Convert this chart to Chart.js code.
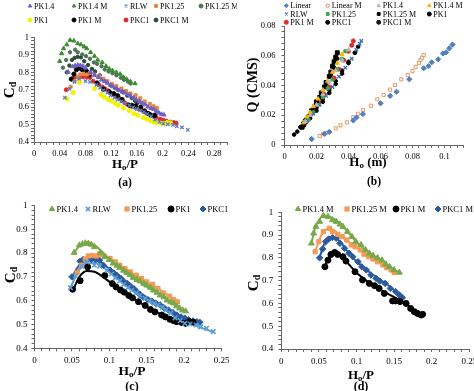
<!DOCTYPE html>
<html><head><meta charset="utf-8">
<script src="https://cdn.jsdelivr.net/npm/chart.js@4.4.1/dist/chart.umd.min.js"></script>
<style>
html,body{margin:0;padding:0;background:#fff;}
#wrap{position:relative;width:474px;height:391px;overflow:hidden;background:#fff;}
canvas{position:absolute;}
</style></head><body>
<div id="wrap">
<canvas id="ca" width="237" height="195" style="left:0;top:0"></canvas>
<canvas id="cb" width="237" height="195" style="left:237px;top:0"></canvas>
<canvas id="cc" width="237" height="196" style="left:0;top:195px"></canvas>
<canvas id="cd" width="237" height="196" style="left:237px;top:195px"></canvas>
</div>
<script>
// ---------- Cd vs Ho/P data (panels a, c, d) ----------
const PK14_H  = [0.053,0.060,0.064,0.068,0.072,0.076,0.080,0.088,0.094,0.100,0.105,0.110,0.114,0.119,0.123,0.128,0.132,0.137,0.141,0.146,0.150,0.155,0.159,0.164,0.168,0.173,0.177,0.182,0.186,0.190,0.194,0.198,0.202];
const PK14_Cd = [0.802,0.833,0.838,0.842,0.840,0.836,0.826,0.800,0.784,0.772,0.757,0.748,0.739,0.727,0.718,0.708,0.697,0.688,0.682,0.672,0.665,0.655,0.644,0.634,0.623,0.615,0.602,0.594,0.589,0.577,0.568,0.560,0.556];
const RLW_H   = [0.048,0.055,0.063,0.070,0.080,0.087,0.097,0.103,0.108,0.114,0.119,0.125,0.130,0.136,0.141,0.148,0.154,0.160,0.165,0.171,0.176,0.182,0.188,0.195,0.201,0.208,0.216,0.222,0.230,0.239];
const RLW_Cd  = [0.655,0.705,0.745,0.763,0.749,0.745,0.728,0.712,0.696,0.683,0.668,0.655,0.644,0.633,0.623,0.610,0.598,0.590,0.582,0.572,0.561,0.548,0.528,0.516,0.505,0.502,0.498,0.490,0.484,0.470];
const PK125_H = [0.057,0.063,0.068,0.072,0.077,0.083,0.087,0.094,0.101,0.108,0.114,0.121,0.128,0.136,0.143,0.150,0.158,0.165,0.172,0.180,0.186,0.191];
const PK125_Cd= [0.717,0.749,0.775,0.788,0.790,0.788,0.797,0.786,0.777,0.763,0.749,0.735,0.721,0.707,0.693,0.679,0.669,0.651,0.633,0.619,0.605,0.595];
const PK1_H   = [0.051,0.061,0.071,0.094,0.104,0.109,0.115,0.120,0.126,0.131,0.139,0.148,0.155,0.161,0.170,0.175,0.181,0.186,0.190,0.197,0.202,0.207,0.212];
const PK1_Cd  = [0.648,0.684,0.742,0.706,0.672,0.658,0.645,0.636,0.622,0.612,0.596,0.580,0.563,0.553,0.540,0.532,0.522,0.516,0.512,0.508,0.505,0.512,0.510];
const PKC1_H  = [0.050,0.061,0.065,0.070,0.076,0.082,0.087,0.092,0.101,0.106,0.110,0.115,0.119,0.124,0.128,0.133,0.137,0.141,0.145,0.151,0.157,0.162,0.168,0.173,0.179,0.185,0.190,0.196,0.201,0.206,0.212,0.217,0.221];
const PKC1_Cd = [0.700,0.766,0.773,0.772,0.774,0.772,0.770,0.749,0.728,0.716,0.707,0.695,0.682,0.672,0.662,0.650,0.637,0.626,0.616,0.606,0.598,0.590,0.582,0.571,0.561,0.550,0.540,0.532,0.526,0.520,0.515,0.512,0.509];

const PK14M_H  = [0.040,0.043,0.046,0.051,0.056,0.062,0.068,0.073,0.078,0.082,0.088,0.094,0.099,0.106,0.112,0.117,0.122,0.128,0.134,0.139,0.144,0.150,0.157];
const PK14M_Cd = [0.864,0.908,0.937,0.959,0.985,0.981,0.966,0.959,0.947,0.937,0.915,0.893,0.871,0.857,0.835,0.820,0.810,0.800,0.790,0.772,0.761,0.747,0.736];
const PK125M_H = [0.045,0.050,0.056,0.064,0.068,0.075,0.081,0.087,0.093,0.098,0.105,0.110,0.116,0.122,0.128,0.135,0.140,0.146,0.150];
const PK125M_Cd= [0.827,0.871,0.915,0.930,0.915,0.903,0.893,0.878,0.857,0.849,0.835,0.816,0.805,0.795,0.783,0.769,0.757,0.747,0.736];
const PK1M_H   = [0.058,0.062,0.066,0.071,0.075,0.082,0.086,0.098,0.108,0.117,0.124,0.130,0.137,0.148,0.152,0.158,0.166,0.172,0.177,0.181,0.186,0.188];
const PK1M_Cd  = [0.761,0.790,0.815,0.824,0.815,0.805,0.786,0.739,0.703,0.688,0.678,0.666,0.644,0.611,0.611,0.608,0.600,0.578,0.564,0.556,0.549,0.552];
const PKC1M_H  = [0.051,0.055,0.059,0.063,0.068,0.073,0.078,0.084,0.090,0.095,0.102,0.107,0.113,0.119,0.126,0.131,0.138,0.145,0.152,0.157,0.161];
const PKC1M_Cd = [0.800,0.839,0.871,0.883,0.889,0.886,0.864,0.842,0.820,0.805,0.783,0.761,0.747,0.725,0.710,0.698,0.688,0.666,0.652,0.637,0.625];

// trend curves
const PK14_fitH  = [0.053,0.060,0.070,0.080,0.100,0.120,0.140,0.160,0.180,0.202];
const PK14_fitCd = [0.800,0.830,0.842,0.835,0.775,0.722,0.680,0.640,0.600,0.553];
const RLW_fitH   = [0.048,0.060,0.070,0.080,0.100,0.120,0.140,0.160,0.180,0.200,0.220,0.239];
const RLW_fitCd  = [0.655,0.730,0.755,0.758,0.722,0.675,0.628,0.590,0.553,0.515,0.490,0.468];
const PK125_fitH = [0.057,0.065,0.075,0.085,0.100,0.120,0.140,0.160,0.180,0.191];
const PK125_fitCd= [0.720,0.765,0.785,0.790,0.778,0.737,0.697,0.660,0.620,0.597];
const PK1_fitH   = [0.051,0.060,0.070,0.080,0.100,0.120,0.140,0.160,0.180,0.200,0.212];
const PK1_fitCd  = [0.640,0.700,0.725,0.722,0.680,0.635,0.594,0.557,0.527,0.508,0.507];
const PKC1_fitH  = [0.050,0.060,0.070,0.080,0.100,0.120,0.140,0.160,0.180,0.200,0.221];
const PKC1_fitCd = [0.700,0.750,0.768,0.770,0.735,0.685,0.635,0.595,0.560,0.527,0.505];
const PK14M_fitH  = [0.040,0.045,0.050,0.057,0.065,0.080,0.100,0.120,0.140,0.157];
const PK14M_fitCd = [0.865,0.930,0.965,0.985,0.980,0.945,0.870,0.815,0.770,0.735];
const PK125M_fitH = [0.045,0.050,0.055,0.063,0.070,0.080,0.100,0.120,0.140,0.150];
const PK125M_fitCd= [0.825,0.875,0.910,0.928,0.922,0.895,0.845,0.800,0.760,0.735];
const PK1M_fitH   = [0.058,0.062,0.066,0.072,0.080,0.100,0.120,0.140,0.160,0.180,0.188];
const PK1M_fitCd  = [0.760,0.795,0.815,0.820,0.805,0.735,0.685,0.645,0.610,0.565,0.550];
const PKC1M_fitH  = [0.051,0.055,0.060,0.068,0.075,0.090,0.100,0.120,0.140,0.161];
const PKC1M_fitCd = [0.800,0.845,0.875,0.888,0.882,0.820,0.785,0.730,0.685,0.625];

// ---------- Q vs Ho data (panel b) ----------
const bLinear_H  = [0.017,0.025,0.028,0.043,0.045,0.049,0.060,0.066,0.070,0.078,0.087,0.090,0.092,0.096,0.099,0.101,0.103,0.105];
const bLinear_Q  = [0.004,0.0075,0.0088,0.0165,0.0185,0.0208,0.028,0.033,0.0358,0.0442,0.0516,0.053,0.0556,0.0576,0.0615,0.0623,0.065,0.0675];
const bLinearM_H = [0.022,0.024,0.025,0.026,0.032,0.035,0.039,0.043,0.046,0.049,0.054,0.058,0.062,0.066,0.069,0.073,0.077,0.080,0.082,0.084,0.085,0.086,0.087];
const bLinearM_Q = [0.006,0.0072,0.0078,0.0082,0.0112,0.0132,0.0152,0.0186,0.021,0.0235,0.0264,0.0307,0.0336,0.0372,0.0403,0.0442,0.047,0.0497,0.0526,0.0553,0.0571,0.0587,0.0605];
const bPK14_H    = [0.013,0.016,0.020,0.024,0.028,0.032,0.036,0.040];
const bPK14_Q    = [0.016,0.020,0.027,0.034,0.042,0.050,0.057,0.064];
const bPK14M_H   = [0.012,0.014,0.016,0.018,0.021,0.024,0.027,0.030,0.033,0.036];
const bPK14M_Q   = [0.015,0.019,0.022,0.026,0.031,0.037,0.043,0.049,0.055,0.061];
const bRLW_H     = [0.014,0.018,0.022,0.026,0.030,0.034,0.038,0.042,0.045,0.047,0.048];
const bRLW_Q     = [0.016,0.021,0.027,0.033,0.039,0.046,0.052,0.058,0.064,0.068,0.070];
const bPK125_H   = [0.015,0.018,0.021,0.024,0.027,0.030,0.033,0.036,0.038];
const bPK125_Q   = [0.017,0.022,0.027,0.032,0.038,0.044,0.051,0.058,0.063];
const bPK125M_H  = [0.011,0.012,0.013,0.014,0.015,0.017,0.019,0.020,0.022,0.023,0.025,0.026,0.028,0.029,0.030,0.031,0.032,0.033];
const bPK125M_Q  = [0.012,0.014,0.016,0.017,0.019,0.023,0.026,0.029,0.032,0.035,0.039,0.042,0.046,0.049,0.053,0.056,0.059,0.062];
const bPK1_H     = [0.012,0.016,0.020,0.024,0.028,0.032,0.036,0.040,0.044];
const bPK1_Q     = [0.013,0.018,0.023,0.029,0.035,0.041,0.048,0.055,0.062];
const bPK1M_H    = [0.013,0.016,0.019,0.022,0.025,0.028,0.031,0.034,0.037,0.040,0.042,0.043];
const bPK1M_Q    = [0.015,0.020,0.024,0.029,0.034,0.039,0.045,0.051,0.057,0.063,0.067,0.070];
const bPKC1_H    = [0.006,0.008,0.010,0.013,0.016,0.020,0.024,0.028,0.032,0.036,0.040,0.044,0.046];
const bPKC1_Q    = [0.007,0.009,0.012,0.015,0.020,0.025,0.031,0.037,0.043,0.050,0.056,0.062,0.066];
const bPKC1M_H   = [0.010,0.012,0.014,0.017,0.020,0.023,0.026,0.029,0.031,0.033];
const bPKC1M_Q   = [0.012,0.015,0.018,0.023,0.028,0.034,0.040,0.047,0.052,0.058];

// ---------- helpers ----------
const SERIF = '"Liberation Serif", "Times New Roman", serif';
const pts = (xs, ys) => xs.map((x, i) => ({x, y: ys[i]}));
function mk(label, xs, ys, style, color, r, bg, bw) {
  return {label, data: pts(xs, ys), pointStyle: style, pointRadius: r, pointHoverRadius: r,
    backgroundColor: bg || color, borderColor: color, borderWidth: bw || 1, showLine: false};
}
function fit(xs, ys, color) {
  return {data: pts(xs, ys), showLine: true, pointRadius: 0, pointHoverRadius: 0, borderColor: color,
    backgroundColor: color, borderWidth: 2, cubicInterpolationMode: 'monotone', fill: false};
}
function axis(o) {
  return {
    type: 'linear', min: o.min, max: o.max,
    afterBuildTicks(s) {
      const t = []; const n = Math.round((o.max - o.min) / o.minor);
      for (let k = 0; k <= n; k++) t.push({value: +(o.min + k * o.minor).toFixed(6)});
      s.ticks = t;
    },
    ticks: {autoSkip: false, maxRotation: 0, minRotation: 0, padding: o.pad, color: '#000',
      font: {family: SERIF, size: o.size},
      callback(v) { const q = v / o.major; return Math.abs(q - Math.round(q)) < 1e-6 ? String(+v.toFixed(4)) : ''; }},
    grid: {drawOnChartArea: false, drawTicks: true, tickLength: 3, color: '#666', lineWidth: 1},
    border: {display: true, color: '#666', width: 1},
    afterFit(s) {
      if (o.isX) s.height = o.fixed; else s.width = o.fixed;
      s.paddingLeft = 0; s.paddingRight = 0; s.paddingTop = 0; s.paddingBottom = 0;
    }
  };
}
const textPlugin = {
  id: 'paneltext',
  afterDraw(chart, args, opts) {
    const ctx = chart.ctx;
    (opts.items || []).forEach(it => {
      ctx.save();
      ctx.translate(it.x, it.y);
      if (it.rot) ctx.rotate(it.rot);
      let total = 0;
      const segs = it.parts.map(p => { ctx.font = p.font; const w = ctx.measureText(p.t).width; total += w; return Object.assign({w}, p); });
      let x = -total / 2;
      ctx.textBaseline = 'middle'; ctx.textAlign = 'left'; ctx.fillStyle = '#000';
      segs.forEach(s => { ctx.font = s.font; ctx.fillText(s.t, x, s.dy || 0); x += s.w; });
      ctx.restore();
    });
    const lg = opts.legend;
    if (lg) {
      const items = chart.data.datasets.filter(d => d.label);
      items.forEach((ds, i) => {
        const x = lg.cols[i % lg.cols.length], y = lg.rows[Math.floor(i / lg.cols.length)];
        ctx.save();
        ctx.fillStyle = ds.backgroundColor; ctx.strokeStyle = ds.borderColor; ctx.lineWidth = ds.borderWidth;
        const r = lg.radius || ds.pointRadius;
        if (Chart.helpers && Chart.helpers.drawPoint) {
          Chart.helpers.drawPoint(ctx, {pointStyle: ds.pointStyle, rotation: 0, radius: r, borderWidth: ds.borderWidth}, x, y);
        } else { ctx.beginPath(); ctx.arc(x, y, r, 0, Math.PI * 2); ctx.fill(); }
        ctx.fillStyle = '#000'; ctx.font = lg.font; ctx.textBaseline = 'middle'; ctx.textAlign = 'left';
        ctx.fillText(ds.label, x + lg.gap, y + 0.5);
        ctx.restore();
      });
    }
  }
};
function make(id, datasets, xs, ys, pad, text) {
  return new Chart(document.getElementById(id), {
    type: 'scatter',
    data: {datasets},
    options: {
      responsive: false, devicePixelRatio: 1, animation: false,
      layout: {padding: pad},
      plugins: {legend: {display: false}, tooltip: {enabled: false}, paneltext: text},
      scales: {x: xs, y: ys}
    },
    plugins: [textPlugin]
  });
}
const B = s => 'bold ' + s + 'px ' + SERIF;
const HoP = (x, y, s) => ({x, y, parts: [{t: 'H', font: B(s)}, {t: 'o', font: B(s * 0.68), dy: 3}, {t: '/P', font: B(s)}]});
const Cd = (x, y, s) => ({x, y, rot: -Math.PI / 2, parts: [{t: 'C', font: B(s)}, {t: 'd', font: B(s * 0.66), dy: 3.5}]});

// ---------- panel (a) ----------
make('ca', [
  mk('PK1.4', PK14_H, PK14_Cd, 'triangle', '#6f5fc4', 2.4),
  mk('PK1.4 M', PK14M_H, PK14M_Cd, 'triangle', '#3b8a2f', 2.4),
  mk('RLW', RLW_H, RLW_Cd, 'crossRot', '#5a80c0', 2.4, null, 1.3),
  mk('PK1.25', PK125_H, PK125_Cd, 'rect', '#e8843f', 2.1),
  mk('PK1.25 M', PK125M_H, PK125M_Cd, 'circle', '#4d7358', 1.7),
  mk('PK1', PK1_H, PK1_Cd, 'circle', '#f2f200', 2.1),
  mk('PK1 M', PK1M_H, PK1M_Cd, 'circle', '#000000', 2.1),
  mk('PKC1', PKC1_H, PKC1_Cd, 'circle', '#e02828', 1.9),
  mk('PKC1 M', PKC1M_H, PKC1M_Cd, 'circle', '#2c4a38', 1.7)
],
  axis({min: 0, max: 0.3, major: 0.04, minor: 0.01, size: 8.5, pad: 4, fixed: 16, isX: true}),
  axis({min: 0.4, max: 1, major: 0.1, minor: 0.02, size: 8.5, pad: 2, fixed: 34}),
  {left: 0, right: 10, top: 37.5, bottom: 37},
  {items: [Cd(10, 90, 15), HoP(125, 165, 13), {x: 125, y: 183, parts: [{t: '(a)', font: B(11.5)}]}],
   legend: {cols: [30, 74, 126, 156, 201], rows: [6, 20], gap: 4, font: '8px ' + SERIF, radius: 2}}
);

// ---------- panel (b) ----------
make('cb', [
  mk('Linear', bLinear_H, bLinear_Q, 'rectRot', '#4f7fbf', 2.6),
  mk('Linear M', bLinearM_H, bLinearM_Q, 'rect', '#e29a67', 2.2, '#ffffff', 1),
  mk('PK1.4', bPK14_H, bPK14_Q, 'triangle', '#b8b8b8', 2.4),
  mk('PK1.4 M', bPK14M_H, bPK14M_Q, 'triangle', '#f5b800', 2.4),
  mk('RLW', bRLW_H, bRLW_Q, 'crossRot', '#3a6fb5', 2.4, null, 1.3),
  mk('PK1.25', bPK125_H, bPK125_Q, 'rect', '#3fa34d', 2.1),
  mk('PK1.25 M', bPK125M_H, bPK125M_Q, 'rect', '#000000', 2.8),
  mk('PK1', bPK1_H, bPK1_Q, 'circle', '#000000', 1.8),
  mk('PK1 M', bPK1M_H, bPK1M_Q, 'circle', '#e0282b', 2),
  mk('PKC1', bPKC1_H, bPKC1_Q, 'circle', '#000000', 1.8),
  mk('PKC1 M', bPKC1M_H, bPKC1M_Q, 'circle', '#111111', 1.8)
],
  axis({min: 0, max: 0.112, major: 0.02, minor: 0.004, size: 8.5, pad: 4, fixed: 16, isX: true}),
  axis({min: 0, max: 0.08, major: 0.02, minor: 0.004, size: 8.5, pad: 6, fixed: 47.5}),
  {left: 0, right: 10.3, top: 26, bottom: 34},
  {items: [{x: 16, y: 85, rot: -Math.PI / 2, parts: [{t: 'Q (CMS)', font: B(14)}]},
           {x: 131, y: 163, parts: [{t: 'H', font: B(13)}, {t: 'o', font: B(9), dy: 3}, {t: ' (m)', font: B(13)}]},
           {x: 137, y: 182, parts: [{t: '(b)', font: B(11.5)}]}],
   legend: {cols: [49.3, 90.7, 141.7, 192.3], rows: [5.7, 14, 22.3], gap: 4, font: '8px ' + SERIF, radius: 2}}
);

// ---------- panel (c) ----------
const gC = '#77a84a', lbC = '#5c9fd6', orC = '#f39a55', bkC = '#000000', dbC = '#2b5a9e';
make('cc', [
  mk('PK1.4', PK14_H, PK14_Cd, 'triangle', gC, 3.4),
  mk('RLW', RLW_H, RLW_Cd, 'crossRot', lbC, 3.2, null, 1.6),
  mk('PK1.25', PK125_H, PK125_Cd, 'rect', orC, 3),
  mk('PK1', PK1_H, PK1_Cd, 'circle', bkC, 3),
  mk('PKC1', PKC1_H, PKC1_Cd, 'rectRot', dbC, 3.2),
  fit(PK14_fitH, PK14_fitCd, gC), fit(RLW_fitH, RLW_fitCd, lbC), fit(PK125_fitH, PK125_fitCd, orC),
  fit(PK1_fitH, PK1_fitCd, bkC), fit(PKC1_fitH, PKC1_fitCd, dbC)
],
  axis({min: 0, max: 0.25, major: 0.05, minor: 0.01, size: 9, pad: 4, fixed: 16, isX: true}),
  axis({min: 0.4, max: 1, major: 0.1, minor: 0.02, size: 9, pad: 4, fixed: 34.5}),
  {left: 0, right: 15.5, top: 10.5, bottom: 26.7},
  {items: [Cd(11, 80, 15), HoP(132, 176.5, 13.5), {x: 132, y: 191.5, parts: [{t: '(c)', font: B(12)}]}],
   legend: {cols: [52, 88, 127, 171, 203], rows: [14], gap: 4.5, font: '8.5px ' + SERIF, radius: 3}}
);

// ---------- panel (d) ----------
make('cd', [
  mk('PK1.4 M', PK14M_H, PK14M_Cd, 'triangle', gC, 3.4),
  mk('PK1.25 M', PK125M_H, PK125M_Cd, 'rect', orC, 3),
  mk('PK1 M', PK1M_H, PK1M_Cd, 'circle', bkC, 3),
  mk('PKC1 M', PKC1M_H, PKC1M_Cd, 'rectRot', dbC, 3.2),
  fit(PK14M_fitH, PK14M_fitCd, gC), fit(PK125M_fitH, PK125M_fitCd, orC),
  fit(PK1M_fitH, PK1M_fitCd, bkC), fit(PKC1M_fitH, PKC1M_fitCd, dbC)
],
  axis({min: 0, max: 0.25, major: 0.05, minor: 0.01, size: 9, pad: 4, fixed: 16, isX: true}),
  axis({min: 0.4, max: 1, major: 0.1, minor: 0.02, size: 9, pad: 5, fixed: 44.3}),
  {left: 0, right: 4.7, top: 17.3, bottom: 26},
  {items: [Cd(17, 88, 15), HoP(124, 180.5, 13), {x: 124, y: 191.5, parts: [{t: '(d)', font: B(12)}]}],
   legend: {cols: [61, 110, 159, 201], rows: [14], gap: 4.5, font: '8.5px ' + SERIF, radius: 3}}
);
</script>
</body></html>
